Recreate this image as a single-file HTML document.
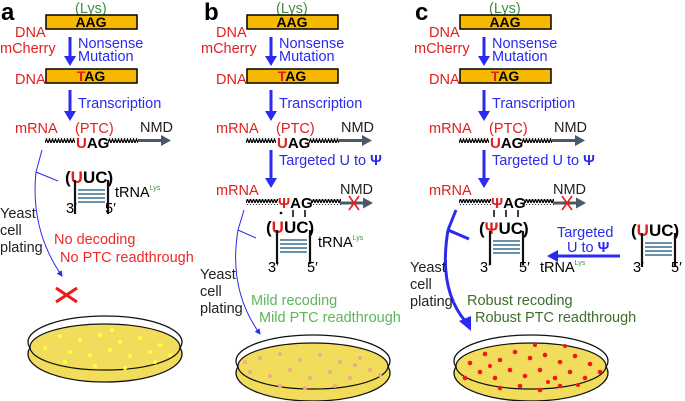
<!DOCTYPE html>
<html><head><meta charset="utf-8"><style>
html,body{margin:0;padding:0;background:#fff;}
svg{display:block;font-family:"Liberation Sans",Arial,sans-serif;}
.r{fill:#e02020}.bl{fill:#2a2af0}.k{fill:#111}
</style></head><body>
<svg width="685" height="401" viewBox="0 0 685 401" xmlns="http://www.w3.org/2000/svg">
<defs>
<pattern id="wv" width="3" height="6" patternUnits="userSpaceOnUse">
<path d="M0,5 L1.5,1 L3,5" fill="none" stroke="#000" stroke-width="1.2"/>
</pattern>
<marker id="ab" markerWidth="6" markerHeight="6" refX="5" refY="3" orient="auto" markerUnits="userSpaceOnUse"><path d="M0,0 L6,3 L0,6 z" fill="#2a2af0"/></marker>
<g id="top">
<text x="75" y="13" font-size="14.5" fill="#3f8f3f">(Lys)</text>
<rect x="46" y="15" width="91" height="14" fill="#f6b800" stroke="#000" stroke-width="1.5"/>
<text x="91" y="27" font-size="14" font-weight="bold" text-anchor="middle">AAG</text>
<text x="15" y="37" font-size="14.5" class="r">DNA</text>
<text x="0" y="53" font-size="14.5" class="r">mCherry</text>
<path d="M70,37 V58" stroke="#2a2af0" stroke-width="3"/><path d="M64,56 L70,66 L76,56z" fill="#2a2af0"/>
<text x="78" y="48" font-size="14.5" class="bl">Nonsense</text>
<text x="78" y="61" font-size="14.5" class="bl">Mutation</text>
<rect x="46" y="69" width="91" height="14" fill="#f6b800" stroke="#000" stroke-width="1.5"/>
<text x="91" y="81" font-size="14" font-weight="bold" text-anchor="middle"><tspan fill="#e02020">T</tspan>AG</text>
<text x="15" y="84" font-size="14.5" class="r">DNA</text>
<path d="M70,90 V113" stroke="#2a2af0" stroke-width="3"/><path d="M64,111 L70,121 L76,111z" fill="#2a2af0"/>
<text x="78" y="108" font-size="14.5" class="bl">Transcription</text>
<text x="15" y="133" font-size="14.5" class="r">mRNA</text>
<text x="75" y="133" font-size="14.5" class="r">(PTC)</text>
<text x="140" y="132" font-size="14.5" fill="#222">NMD</text>
<rect x="45" y="137" width="30" height="6" fill="url(#wv)"/>
<rect x="108" y="137" width="30" height="6" fill="url(#wv)"/>
<text x="76" y="148" font-size="15" font-weight="bold"><tspan fill="#e02020">U</tspan>AG</text>
<path d="M138,140.5 H163" stroke="#4a5868" stroke-width="3"/><path d="M161,135 L171,140.5 L161,146z" fill="#4a5868"/>
</g>
<g id="trna">
<path d="M0,0 V34 M33,0 V34" stroke="#111" stroke-width="2.2" fill="none"/>
<path d="M3,10 H30 M3,14 H30 M3,18 H30 M3,22 H30" stroke="#3a6f8f" stroke-width="1.5"/>
</g>
<g id="dish">
<ellipse cx="0" cy="12" rx="77" ry="28" fill="#f1dc5c" stroke="#111" stroke-width="1.3"/>
<ellipse cx="0" cy="0" rx="77" ry="26" fill="#fff" stroke="#111" stroke-width="1.3"/>
<ellipse cx="0" cy="5" rx="75" ry="23" fill="#f1dc5c" stroke="#111" stroke-width="1.2"/>
</g>
</defs>

<!-- Panel a -->
<text x="1" y="20" font-size="24" font-weight="bold">a</text>
<use href="#top"/>
<path d="M42,150 L36,172 M36,172 L58,181 M36,172 Q30,230 62,276" stroke="#2a2af0" stroke-width="1" fill="none" marker-end="url(#ab)"/>
<text x="65" y="183" font-size="17" font-weight="bold">(<tspan fill="#e02020">U</tspan>UC)</text>
<use href="#trna" x="75" y="180"/>
<text x="115" y="197" font-size="14.5">tRNA<tspan font-size="7" dy="-7" fill="#3f8f3f">Lys</tspan></text>
<text x="66" y="213" font-size="14.5">3′</text><text x="105" y="213" font-size="14.5">5′</text>
<text x="0" y="218" font-size="14.5" fill="#222">Yeast</text>
<text x="0" y="235" font-size="14.5" fill="#222">cell</text>
<text x="0" y="252" font-size="14.5" fill="#222">plating</text>
<text x="54" y="244" font-size="14.5" fill="#f02828">No decoding</text>
<text x="60" y="262" font-size="14.5" fill="#f02828">No PTC readthrough</text>
<path d="M56,288 L77,302 M77,288 L56,302" stroke="#f01818" stroke-width="3"/>
<use href="#dish" x="105" y="342"/>
<g fill="#ffff40"><circle cx="60" cy="336" r="2"/><circle cx="80" cy="340" r="2"/><circle cx="100" cy="335" r="2"/><circle cx="120" cy="342" r="2"/><circle cx="140" cy="338" r="2"/><circle cx="160" cy="345" r="2"/><circle cx="70" cy="352" r="2"/><circle cx="90" cy="355" r="2"/><circle cx="110" cy="350" r="2"/><circle cx="130" cy="356" r="2"/><circle cx="150" cy="352" r="2"/><circle cx="65" cy="362" r="2"/><circle cx="95" cy="366" r="2"/><circle cx="125" cy="368" r="2"/><circle cx="155" cy="362" r="2"/><circle cx="45" cy="348" r="2"/><circle cx="170" cy="355" r="2"/><circle cx="112" cy="330" r="2"/></g>

<!-- Panel b -->
<text x="204" y="20" font-size="24" font-weight="bold">b</text>
<use href="#top" x="201"/>
<path d="M271,150 V180" stroke="#2a2af0" stroke-width="3"/><path d="M265,178 L271,188 L277,178z" fill="#2a2af0"/>
<text x="279" y="165" font-size="14.5" class="bl">Targeted U to <tspan font-weight="bold">Ψ</tspan></text>
<text x="216" y="195" font-size="14.5" class="r">mRNA</text>
<rect x="246" y="199" width="32" height="6" fill="url(#wv)"/>
<rect x="311" y="199" width="30" height="6" fill="url(#wv)"/>
<text x="278" y="208" font-size="15" font-weight="bold"><tspan fill="#e02020">Ψ</tspan>AG</text>
<text x="340" y="194" font-size="14.5" fill="#222">NMD</text>
<path d="M340,203 H365" stroke="#4a5868" stroke-width="3"/><path d="M363,197.5 L373,203 L363,208.5z" fill="#4a5868"/>
<path d="M349,196 L359,210 M359,196 L349,210" stroke="#f01818" stroke-width="1.6"/>
<circle cx="281" cy="213" r="1.3" fill="#000"/>
<path d="M293,210 V217 M305,210 V217" stroke="#000" stroke-width="1.5"/>
<text x="266" y="233" font-size="17" font-weight="bold">(<tspan fill="#e02020">U</tspan>UC)</text>
<use href="#trna" x="277" y="230"/>
<text x="318" y="247" font-size="14.5">tRNA<tspan font-size="7" dy="-7" fill="#3f8f3f">Lys</tspan></text>
<text x="268" y="272" font-size="14.5">3′</text><text x="307" y="272" font-size="14.5">5′</text>
<path d="M244,210 L238,230 M238,230 L256,238 M238,230 Q228,290 260,334" stroke="#2a2af0" stroke-width="1" fill="none" marker-end="url(#ab)"/>
<text x="200" y="279" font-size="14.5" fill="#222">Yeast</text>
<text x="200" y="296" font-size="14.5" fill="#222">cell</text>
<text x="200" y="313" font-size="14.5" fill="#222">plating</text>
<text x="251" y="305" font-size="14.5" fill="#5bb85a">Mild recoding</text>
<text x="259" y="322" font-size="14.5" fill="#5bb85a">Mild PTC readthrough</text>
<use href="#dish" x="313" y="361"/>
<g fill="#f0a890"><circle cx="260" cy="358" r="2"/><circle cx="280" cy="354" r="2"/><circle cx="300" cy="360" r="2"/><circle cx="320" cy="355" r="2"/><circle cx="340" cy="362" r="2"/><circle cx="360" cy="358" r="2"/><circle cx="250" cy="372" r="2"/><circle cx="270" cy="376" r="2"/><circle cx="290" cy="370" r="2"/><circle cx="310" cy="378" r="2"/><circle cx="330" cy="372" r="2"/><circle cx="350" cy="378" r="2"/><circle cx="370" cy="370" r="2"/><circle cx="280" cy="386" r="2"/><circle cx="305" cy="388" r="2"/><circle cx="335" cy="386" r="2"/><circle cx="355" cy="365" r="2"/><circle cx="245" cy="362" r="2"/><circle cx="380" cy="375" r="2"/></g>

<!-- Panel c -->
<text x="415" y="20" font-size="24" font-weight="bold">c</text>
<use href="#top" x="414"/>
<path d="M484,150 V180" stroke="#2a2af0" stroke-width="3"/><path d="M478,178 L484,188 L490,178z" fill="#2a2af0"/>
<text x="492" y="165" font-size="14.5" class="bl">Targeted U to <tspan font-weight="bold">Ψ</tspan></text>
<text x="429" y="195" font-size="14.5" class="r">mRNA</text>
<rect x="459" y="199" width="32" height="6" fill="url(#wv)"/>
<rect x="524" y="199" width="30" height="6" fill="url(#wv)"/>
<text x="491" y="208" font-size="15" font-weight="bold"><tspan fill="#e02020">Ψ</tspan>AG</text>
<text x="553" y="194" font-size="14.5" fill="#222">NMD</text>
<path d="M553,203 H578" stroke="#4a5868" stroke-width="3"/><path d="M576,197.5 L586,203 L576,208.5z" fill="#4a5868"/>
<path d="M562,196 L572,210 M572,196 L562,210" stroke="#f01818" stroke-width="1.6"/>
<path d="M494,210 V217 M506,210 V217 M518,210 V217" stroke="#000" stroke-width="1.5"/>
<text x="479" y="234" font-size="17" font-weight="bold">(<tspan fill="#e02020">Ψ</tspan>UC)</text>
<use href="#trna" x="490" y="231"/>
<text x="480" y="272" font-size="14.5">3′</text><text x="519" y="272" font-size="14.5">5′</text>
<text x="540" y="272" font-size="14.5">tRNA<tspan font-size="7" dy="-7" fill="#3f8f3f">Lys</tspan></text>
<text x="557" y="237" font-size="14.5" class="bl">Targeted</text>
<text x="567" y="252" font-size="14.5" class="bl">U to <tspan font-weight="bold">Ψ</tspan></text>
<path d="M620,256 H556" stroke="#2a2af0" stroke-width="3"/><path d="M558,250 L547,256 L558,262z" fill="#2a2af0"/>
<text x="631" y="236" font-size="17" font-weight="bold">(<tspan fill="#e02020">U</tspan>UC)</text>
<use href="#trna" x="642" y="233"/>
<text x="633" y="272" font-size="14.5">3′</text><text x="671" y="272" font-size="14.5">5′</text>
<path d="M456,210 L448,230 M448,230 L469,239 M448,230 Q438,290 466,322" stroke="#2a2af0" stroke-width="3" fill="none"/>
<path d="M459,321 L471,331 L471,316z" fill="#2a2af0"/>
<text x="410" y="272" font-size="14.5" fill="#222">Yeast</text>
<text x="410" y="289" font-size="14.5" fill="#222">cell</text>
<text x="410" y="306" font-size="14.5" fill="#222">plating</text>
<text x="467" y="305" font-size="14.5" fill="#3c6e2c">Robust recoding</text>
<text x="475" y="322" font-size="14.5" fill="#3c6e2c">Robust PTC readthrough</text>
<use href="#dish" x="531" y="361"/>
<g fill="#f01818"><circle cx="470" cy="363" r="2.3"/><circle cx="485" cy="354" r="2.3"/><circle cx="500" cy="360" r="2.3"/><circle cx="515" cy="352" r="2.3"/><circle cx="530" cy="358" r="2.3"/><circle cx="545" cy="355" r="2.3"/><circle cx="560" cy="362" r="2.3"/><circle cx="575" cy="356" r="2.3"/><circle cx="590" cy="364" r="2.3"/><circle cx="480" cy="372" r="2.3"/><circle cx="495" cy="378" r="2.3"/><circle cx="510" cy="370" r="2.3"/><circle cx="525" cy="376" r="2.3"/><circle cx="540" cy="370" r="2.3"/><circle cx="555" cy="378" r="2.3"/><circle cx="570" cy="372" r="2.3"/><circle cx="585" cy="378" r="2.3"/><circle cx="500" cy="388" r="2.3"/><circle cx="520" cy="386" r="2.3"/><circle cx="540" cy="390" r="2.3"/><circle cx="560" cy="386" r="2.3"/><circle cx="465" cy="378" r="2.3"/><circle cx="600" cy="372" r="2.3"/><circle cx="535" cy="345" r="2"/><circle cx="490" cy="366" r="2"/><circle cx="565" cy="346" r="2"/><circle cx="548" cy="382" r="2"/><circle cx="578" cy="385" r="2"/></g>
</svg>
</body></html>
